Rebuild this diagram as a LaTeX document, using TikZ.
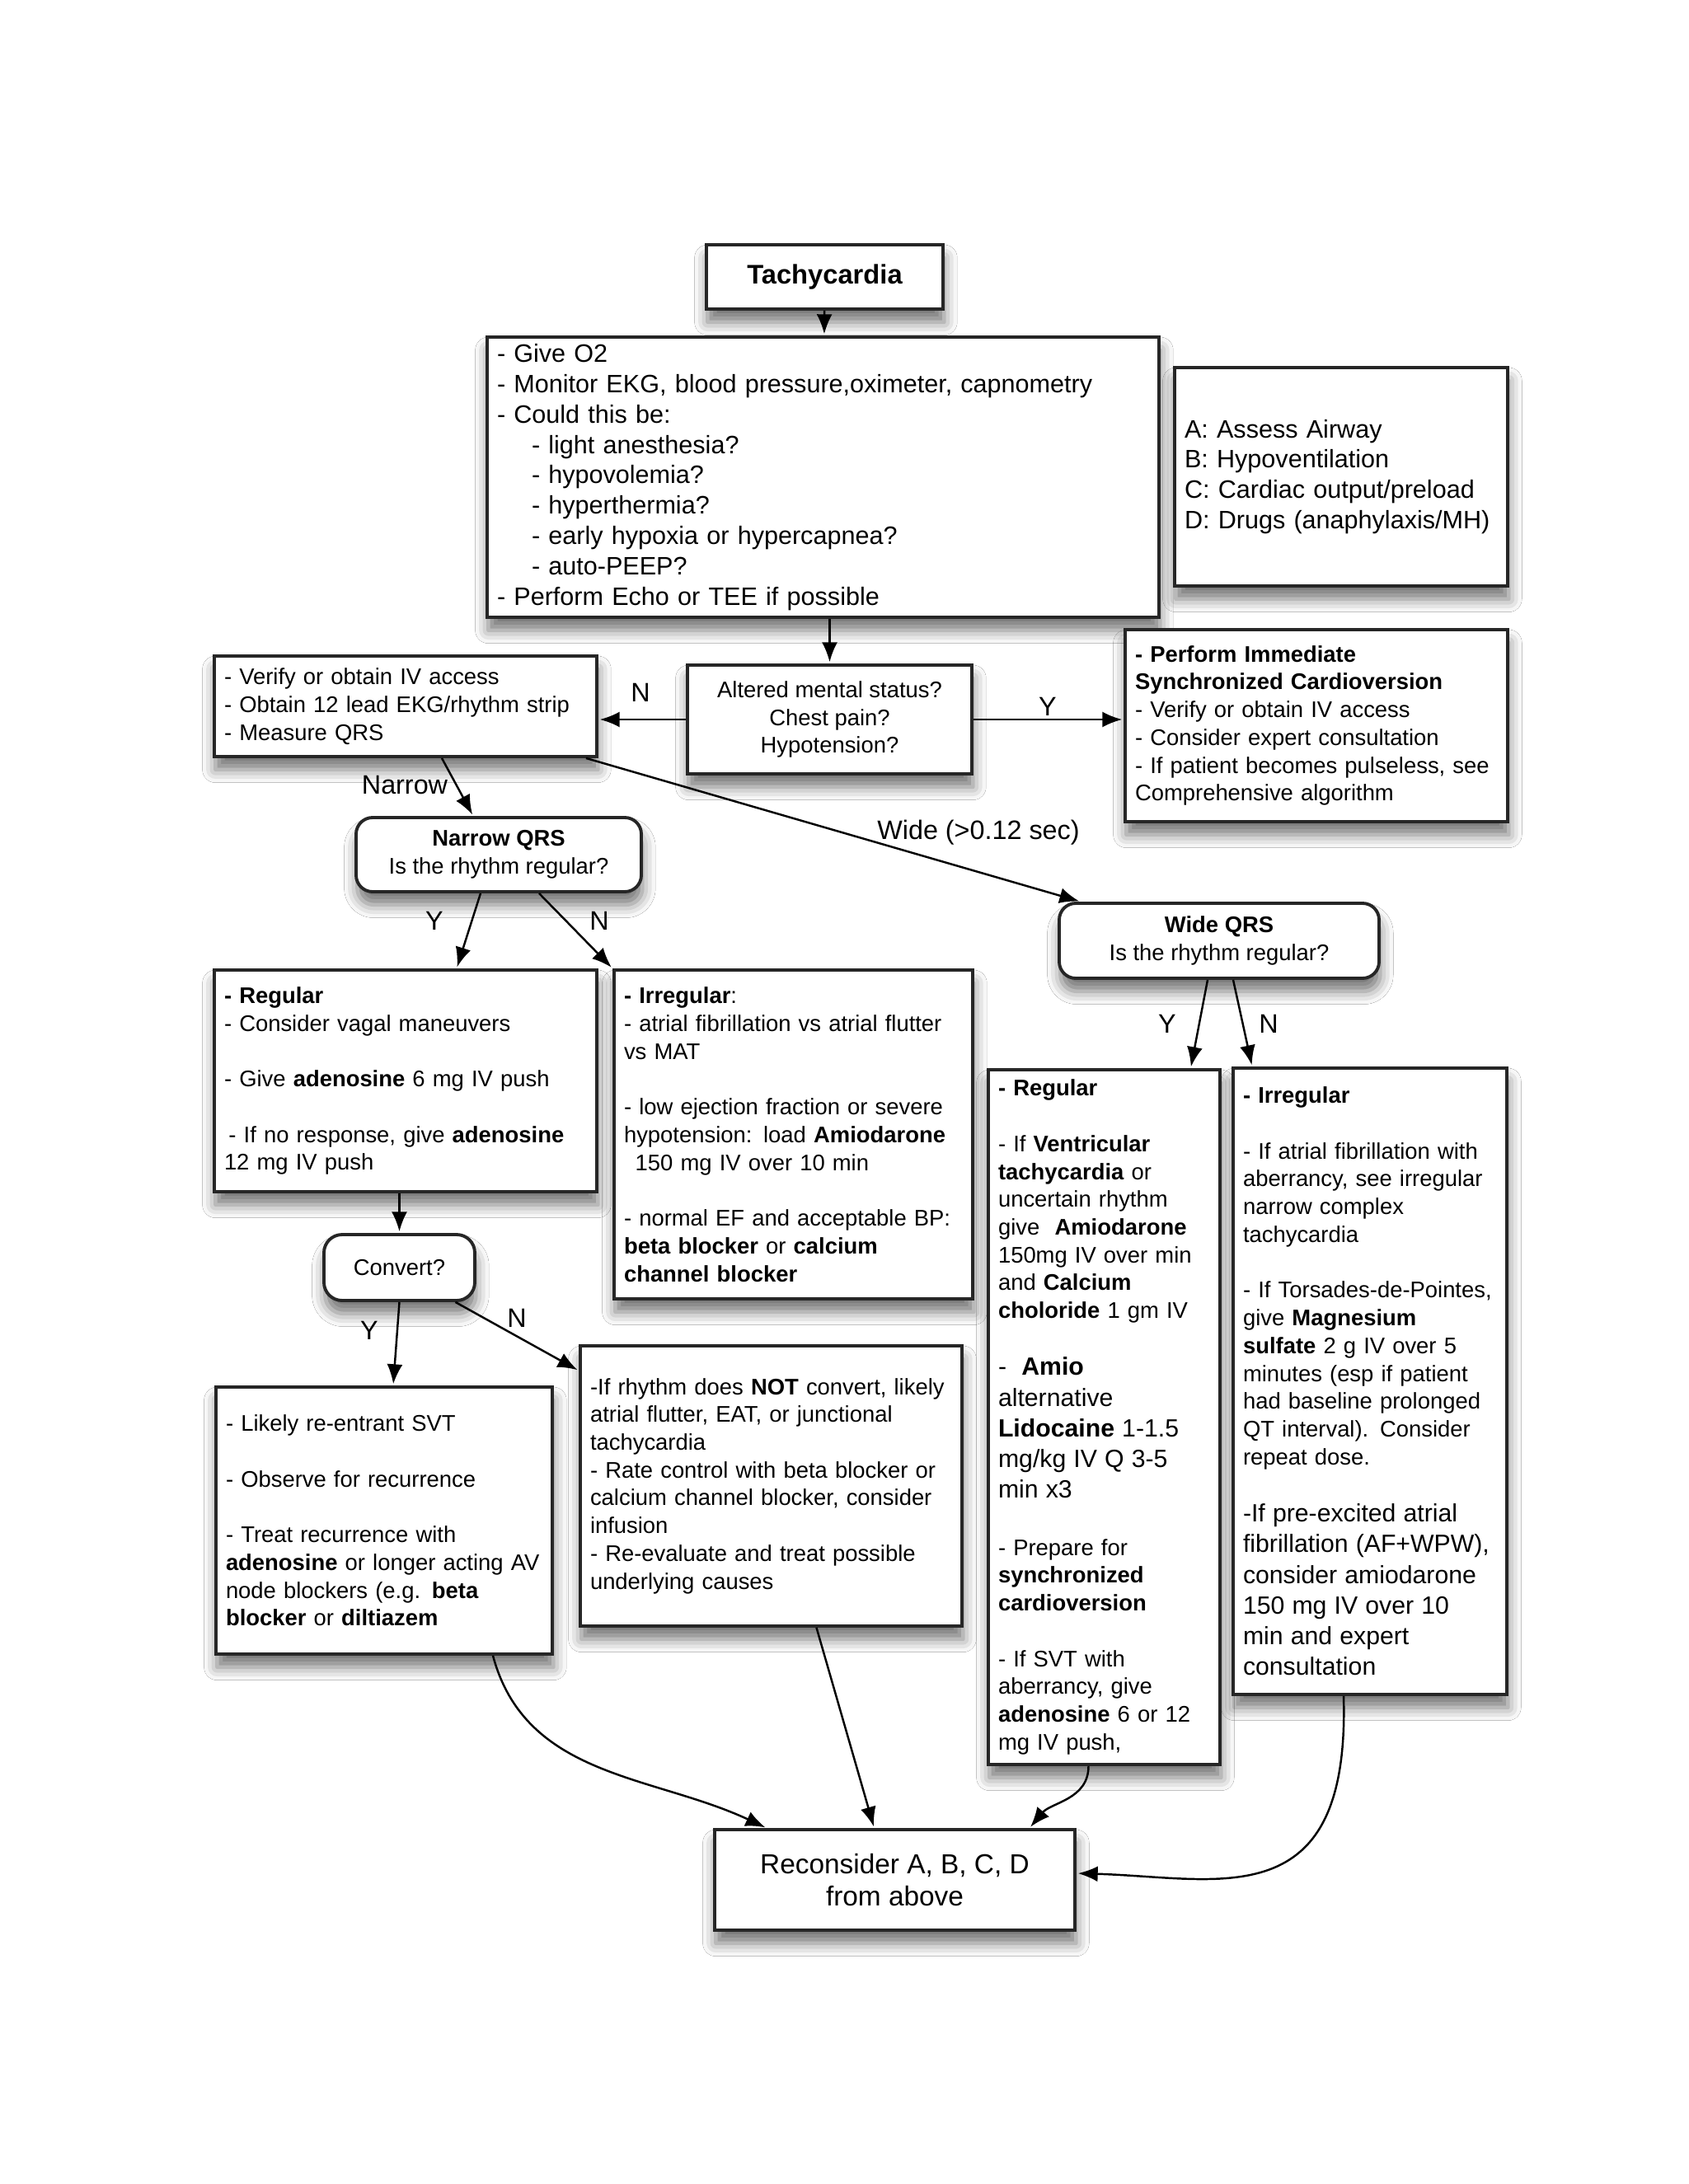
\documentclass[tikz,border=0pt]{standalone}
\usepackage{xcolor}
\usepackage{tikz}
\usepackage{fontspec}
\setmainfont{Liberation Sans}
\usetikzlibrary{arrows.meta, positioning, shadows.blur}
\setlength{\parindent}{0pt}

\newcommand{\smtxt}{\fontsize{7.8}{9.6}\selectfont}
\newcommand{\mdtxt}{\fontsize{8.6}{10.6}\selectfont}
\newcommand{\bgtxt}{\fontsize{8.7}{10.5}\selectfont}

\begin{document}
\begin{tikzpicture}[->,
				>={Latex[length=2.4mm,width=1.9mm]},
				shorten >=0.5pt,
				line width=0.7pt,
				box/.style={draw=black!85, line width=1.1pt, fill=white,
					inner xsep=0.12cm, inner ysep=0pt, font=\smtxt,
					blur shadow={shadow xshift=0.4pt, shadow yshift=-4.5pt,
						shadow blur radius=4.5pt, shadow opacity=55}},
				leftbox/.style={box, align=left},
				midbox/.style={box, align=center},
				roundbox/.style={box, align=center, rounded corners=0.2cm},
				lbl/.style={font=\fontsize{9.2}{11}\selectfont, inner sep=1pt}]
				\fill[white] (0,0) rectangle (20.48,-26.50);
				\useasboundingbox (0,0) rectangle (20.48,-26.50);

				\node[midbox, minimum width=2.87cm, minimum height=0.78cm,
					font=\fontsize{9.3}{11}\selectfont\bfseries] (tachy) at (10.005,-3.36) {Tachycardia};
				\node[leftbox, font=\bgtxt, minimum width=8.15cm, text width=7.91cm,
					minimum height=3.40cm] (main) at (9.985,-5.79) {%
					- Give O2\\
					- Monitor EKG, blood pressure,oximeter, capnometry\\
					- Could this be:\\
					\hspace*{0.42cm}- light anesthesia?\\
					\hspace*{0.42cm}- hypovolemia?\\
					\hspace*{0.42cm}- hyperthermia?\\
					\hspace*{0.42cm}- early hypoxia or hypercapnea?\\
					\hspace*{0.42cm}- auto-PEEP?\\
					- Perform Echo or TEE if possible};
				\node[leftbox, font=\bgtxt, minimum width=4.04cm, text width=3.80cm,
					minimum height=2.65cm] (abcd) at (16.27,-5.785) {%
					A: Assess Airway\\
					B: Hypoventilation\\
					C: Cardiac output/preload\\
					D: Drugs (anaphylaxis/MH)};
				\node[leftbox, minimum width=4.64cm, text width=4.40cm,
					minimum height=1.22cm] (verify) at (4.92,-8.57) {%
					- Verify or obtain IV access\\
					- Obtain 12 lead EKG/rhythm strip\\
					- Measure QRS};
				\node[midbox, minimum width=3.45cm, minimum height=1.32cm] (altered) at (10.065,-8.73) {%
					Altered mental status?\\ Chest pain?\\ Hypotension?};
				\node[leftbox, minimum width=4.64cm, text width=4.40cm,
					minimum height=2.33cm] (cardio) at (15.97,-8.805) {%
					\textbf{- Perform Immediate}\\
					\textbf{Synchronized Cardioversion}\\
					- Verify or obtain IV access\\
					- Consider expert consultation\\
					- If patient becomes pulseless, see\\
					Comprehensive algorithm};
				\node[roundbox, minimum width=3.46cm, minimum height=0.90cm] (narrow) at (6.05,-10.37) {%
					\textbf{Narrow QRS}\\ Is the rhythm regular?};
				\node[roundbox, minimum width=3.88cm, minimum height=0.91cm] (wide) at (14.79,-11.415) {%
					\textbf{Wide QRS}\\ Is the rhythm regular?};
				\node[leftbox, minimum width=4.64cm, text width=4.40cm,
					minimum height=2.69cm] (nreg) at (4.92,-13.115) {%
					\textbf{- Regular}\\
					- Consider vagal maneuvers\\[9.6pt]
					- Give \textbf{adenosine} 6 mg IV push\\[9.6pt]
					\hspace*{0.2em}- If no response, give \textbf{adenosine}\\
					12 mg IV push};
				\node[leftbox, minimum width=4.35cm, text width=4.11cm,
					minimum height=3.99cm] (nirr) at (9.625,-13.765) {%
					\textbf{- Irregular}:\\
					- atrial fibrillation vs atrial flutter\\
					vs MAT\\[9.6pt]
					- low ejection fraction or severe\\
					hypotension: load \textbf{Amiodarone}\\
					\hspace*{0.5em}150 mg IV over 10 min\\[9.6pt]
					- normal EF and acceptable BP:\\
					\textbf{beta blocker} or \textbf{calcium}\\
					\textbf{channel blocker}};
				\node[roundbox, rounded corners=0.22cm, minimum width=1.83cm,
					minimum height=0.80cm] (convert) at (4.845,-15.38) {Convert?};
				\node[leftbox, minimum width=4.08cm, text width=3.84cm,
					minimum height=3.24cm] (svt) at (4.66,-18.45) {%
					- Likely re-entrant SVT\\[9.6pt]
					- Observe for recurrence\\[9.6pt]
					- Treat recurrence with\\
					\textbf{adenosine} or longer acting AV\\
					node blockers (e.g. \textbf{beta}\\
					\textbf{blocker} or \textbf{diltiazem}};
				\node[leftbox, minimum width=4.63cm, text width=4.39cm,
					minimum height=3.40cm] (notconv) at (9.355,-18.03) {%
					-If rhythm does \textbf{NOT} convert, likely\\
					atrial flutter, EAT, or junctional\\
					tachycardia\\
					- Rate control with beta blocker or\\
					calcium channel blocker, consider\\
					infusion\\
					- Re-evaluate and treat possible\\
					underlying causes};
				\node[leftbox, minimum width=2.81cm, text width=2.57cm,
					minimum height=8.43cm] (wreg) at (13.395,-17.195) {%
					\textbf{- Regular}\\[9.6pt]
					- If \textbf{Ventricular}\\
					\textbf{tachycardia} or\\
					uncertain rhythm\\
					give\ \ \textbf{Amiodarone}\\
					150mg IV over min\\
					and \textbf{Calcium}\\
					\textbf{choloride} 1 gm IV\par
					\vspace{9.1pt}
					{\mdtxt -\ \ \textbf{Amio}\\
					alternative\\
					\textbf{Lidocaine} 1-1.5\\
					mg/kg IV Q 3-5\\
					min x3\par}
					\vspace{10.1pt}
					- Prepare for\\
					\textbf{synchronized}\\
					\textbf{cardioversion}\\[9.6pt]
					- If SVT with\\
					aberrancy, give\\
					\textbf{adenosine} 6 or 12\\
					mg IV push,};
				\node[leftbox, minimum width=3.32cm, text width=3.08cm,
					minimum height=7.60cm] (wirr) at (16.62,-16.76) {%
					\textbf{- Irregular}\\[9.6pt]
					- If atrial fibrillation with\\
					aberrancy, see irregular\\
					narrow complex\\
					tachycardia\\[9.6pt]
					- If Torsades-de-Pointes,\\
					give \textbf{Magnesium}\\
					\textbf{sulfate} 2 g IV over 5\\
					minutes (esp if patient\\
					had baseline prolonged\\
					QT interval). Consider\\
					repeat dose.\par
					\vspace{9.1pt}
					{\mdtxt -If pre-excited atrial\\
					fibrillation (AF+WPW),\\
					consider amiodarone\\
					150 mg IV over 10\\
					min and expert\\
					consultation\par}};
				\node[midbox, minimum width=4.37cm, minimum height=1.22cm,
					font=\fontsize{9.5}{11}\selectfont] (recon) at (10.855,-22.81) {%
					Reconsider A, B, C, D\\ from above};

				\node[lbl] (nAlt) at (7.77,-8.40) {N};
				\node[lbl] (yAlt) at (12.71,-8.57) {Y};
				\node[lbl] (narrowlbl) at (4.91,-9.53) {Narrow};
				\node[lbl] (widelbl) at (11.87,-10.10) {Wide (>0.12 sec)};
				\node[lbl] (yNarrow) at (5.27,-11.17) {Y};
				\node[lbl] (nNarrow) at (7.27,-11.17) {N};
				\node[lbl] (yWide) at (14.16,-12.42) {Y};
				\node[lbl] (nWide) at (15.39,-12.42) {N};
				\node[lbl] (yConv) at (4.48,-16.14) {Y};
				\node[lbl] (nConv) at (6.27,-15.99) {N};

				\draw (tachy) -- (main);
				\draw (main.south -| altered.north) -- (altered.north);
				\draw (altered.west) -- (altered.west -| verify.east);
				\draw (altered.east) -- (altered.east -| cardio.west);
				\draw ([xshift=0.44cm]verify.south) -- ([xshift=-0.31cm]narrow.north);
				\draw ([xshift=-0.15cm]verify.south east) -- ([xshift=0.28cm]wide.north west);
				\draw ([xshift=-0.22cm]narrow.south) -- ([xshift=0.62cm]nreg.north);
				\draw ([xshift=0.49cm]narrow.south) -- (nirr.north west);
				\draw ([xshift=-0.14cm]wide.south) -- ([xshift=1.05cm]wreg.north);
				\draw ([xshift=0.17cm]wide.south) -- ([xshift=-1.43cm]wirr.north);
				\draw (nreg.south -| convert.north) -- (convert.north);
				\draw (convert.south) -- ([xshift=0.11cm]svt.north);
				\draw ([xshift=0.68cm]convert.south) -- ([yshift=-0.32cm]notconv.north west);
				\draw ([xshift=1.32cm]svt.south) to [out=-75,in=155] ([xshift=0.65cm]recon.north west);
				\draw ([xshift=0.55cm]notconv.south) -- ([xshift=-0.25cm]recon.north);
				\draw ([xshift=-0.19cm]wreg.south) to [out=-90,in=50] ([xshift=-0.57cm]recon.north east);
				\draw ([xshift=-0.32cm]wirr.south) .. controls +(0.08,-2.7) and +(1.74,-0.05) .. ([yshift=0.08cm]recon.east);
			\end{tikzpicture}
\end{document}
